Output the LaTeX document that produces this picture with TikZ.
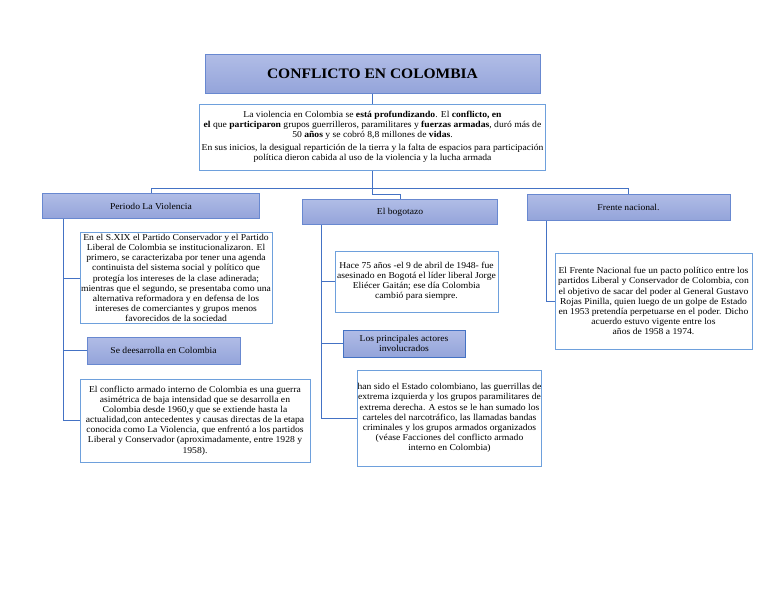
\documentclass[tikz,border=0pt]{standalone}
\usepackage{fontspec}
\setmainfont{Liberation Serif}[FakeStretch=1.07]
\usetikzlibrary{calc}
\definecolor{headfilltop}{RGB}{176,188,230}
\definecolor{headfillbot}{RGB}{148,164,218}
\definecolor{headborder}{RGB}{104,136,208}
\definecolor{boxborder}{RGB}{110,160,220}
\definecolor{linkblue}{RGB}{68,114,196}

\tikzset{
  head/.style={draw=headborder, line width=1pt, top color=headfilltop,
    bottom color=headfillbot, inner sep=0pt, align=center,
    font=\fontsize{9}{10.1}\selectfont},
  txtbox/.style={draw=boxborder, line width=1pt, fill=white, inner sep=0pt,
    align=center, font=\fontsize{9}{10.1}\selectfont},
  link/.style={draw=linkblue, line width=0.9pt}
}

\begin{document}
\begin{tikzpicture}[x=1pt, y=-1pt]
  \useasboundingbox (0,0) rectangle (768,594);
  % header
  \node[head, minimum width=335, minimum height=38, font=\fontsize{14.5}{16}\selectfont\bfseries]
    (title) at (372.5,74) {CONFLICTO EN COLOMBIA};
  \node[txtbox, minimum width=346, minimum height=66] (intro) at (372.5,137)
    {La violencia en Colombia se \textbf{está profundizando}. El \textbf{conflicto, en}\\
     \textbf{el} que \textbf{participaron} grupos guerrilleros, paramilitares y \textbf{fuerzas armadas}, duró más de\\
     50 \textbf{años} y se cobró 8,8 millones de \textbf{vidas}.\\[3pt]
     En sus inicios, la desigual repartición de la tierra y la falta de espacios para participación\\
     política dieron cabida al uso de la violencia y la lucha armada};
  % three branches
  \node[head, minimum width=217, minimum height=25] (violencia) at (151,206) {Periodo La Violencia};
  \node[head, minimum width=195, minimum height=25] (bogotazo) at (400,212) {El bogotazo};
  \node[head, minimum width=203, minimum height=26] (frente) at (628.5,207) {Frente nacional.};
  % Periodo La Violencia
  \node[txtbox, minimum width=192, minimum height=91] (violenciatxt) at (176,278)
    {En el S.XIX el Partido Conservador y el Partido\\
     Liberal de Colombia se institucionalizaron. El\\
     primero, se caracterizaba por tener una agenda\\
     continuista del sistema social y político que\\
     protegía los intereses de la clase adinerada;\\
     mientras que el segundo, se presentaba como una\\
     alternativa reformadora y en defensa de los\\
     intereses de comerciantes y grupos menos\\
     favorecidos de la sociedad};
  \node[head, minimum width=153, minimum height=27] (desarrolla) at (163.5,350.5) {Se deesarrolla en Colombia};
  \node[txtbox, minimum width=230, minimum height=83] (conflictotxt) at (195,420.5)
    {El conflicto armado interno de Colombia es una guerra\\
     asimétrica de baja intensidad que se desarrolla en\\
     Colombia desde 1960,y que se extiende hasta la\\
     actualidad,con antecedentes y causas directas de la etapa\\
     conocida como La Violencia, que enfrentó a los partidos\\
     Liberal y Conservador (aproximadamente, entre 1928 y\\
     1958).};
  % El bogotazo
  \node[txtbox, minimum width=163, minimum height=61] (hacetxt) at (416.5,281.5)
    {Hace 75 años -el 9 de abril de 1948- fue\\
     asesinado en Bogotá el líder liberal Jorge\\
     Eliécer Gaitán; ese día Colombia\\
     cambió para siempre.};
  \node[head, minimum width=122, minimum height=27, draw=linkblue] (actores) at (404,343.5)
    {Los principales actores\\ involucrados};
  \node[txtbox, minimum width=182, minimum height=96] (actorestxt) at (449.5,418)
    {han sido el Estado colombiano, las guerrillas de\\
     extrema izquierda y los grupos paramilitares de\\
     extrema derecha. A estos se le han sumado los\\
     carteles del narcotráfico, las llamadas bandas\\
     criminales y los grupos armados organizados\\
     (véase Facciones del conflicto armado\\
     interno en Colombia)};
  % Frente nacional
  \node[txtbox, minimum width=197, minimum height=96] (frentetxt) at (653.5,301)
    {El Frente Nacional fue un pacto político entre los\\
     partidos Liberal y Conservador de Colombia, con\\
     el objetivo de sacar del poder al General Gustavo\\
     Rojas Pinilla, quien luego de un golpe de Estado\\
     en 1953 pretendía perpetuarse en el poder. Dicho\\
     acuerdo estuvo vigente entre los\\
     años de 1958 a 1974.};
  % connectors
  \draw[link] (title.south) -- (intro.north);
  \draw[link] (intro.south) -- ++(0,24) -| (bogotazo.north);
  \draw[link] (violencia.north) -- ++(0,-5) -| (frente.north);
  \coordinate (vl) at ($(violencia.south west)+(21.5,0)$);
  \draw[link] (vl) |- (violenciatxt.west);
  \draw[link] (vl) |- (desarrolla.west);
  \draw[link] (vl) |- (conflictotxt.west);
  \coordinate (bl) at ($(bogotazo.south west)+(19.5,0)$);
  \draw[link] (bl) |- (hacetxt.west);
  \draw[link] (bl) |- (actores.west);
  \draw[link] (bl) |- (actorestxt.west);
  \coordinate (fl) at ($(frente.south west)+(20,0)$);
  \draw[link] (fl) |- (frentetxt.west);
\end{tikzpicture}
\end{document}
